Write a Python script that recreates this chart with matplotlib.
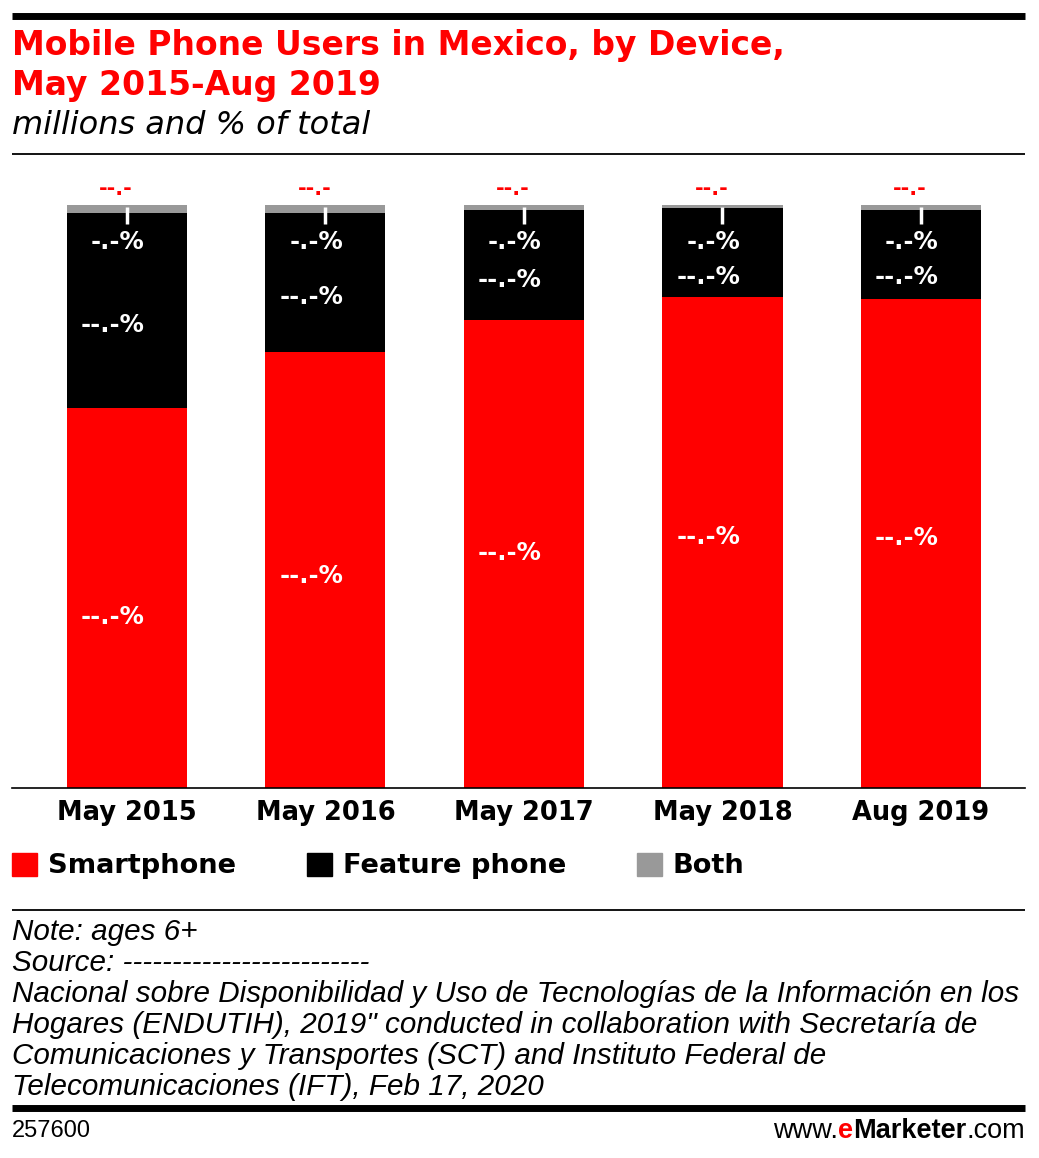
import matplotlib
matplotlib.use('Agg')
import matplotlib.pyplot as plt
from matplotlib.patches import Patch
import numpy as np

# values, % of total
periods = ['May 2015', 'May 2016', 'May 2017', 'May 2018', 'Aug 2019']
smartphone = [65.1, 74.8, 80.3, 84.2, 83.9]
feature = [33.5, 23.8, 18.8, 15.2, 15.3]
both = [1.4, 1.4, 0.9, 0.6, 0.8]
total_label = '--.-'
pct_small = '-.-%'
pct_big = '--.-%'

RED = '#ff0000'
GREY = '#999999'
W, H = 1039, 1158

fig = plt.figure(figsize=(W / 100, H / 100), dpi=100)


def fx(px):
    return px / W


def fy(py):
    return 1 - py / H


# plot area: baseline at y=788px, 100% at ~205px
ax = fig.add_axes([fx(12), fy(788), fx(1025) - fx(12), fy(170) - fy(788)])
x = np.arange(len(periods))
ax.set_xlim(-0.579, 4.524)
ax.set_ylim(0, 106.0)

wid = 0.605
ax.bar(x, smartphone, wid, color=RED, label='Smartphone')
ax.bar(x, feature, wid, bottom=smartphone, color='black', label='Feature phone')
ax.bar(x, both, wid, bottom=np.add(smartphone, feature), color=GREY, label='Both')

for i in range(len(periods)):
    top = smartphone[i] + feature[i] + both[i]
    ax.text(i - 0.055, top + 2.7, total_label, color=RED, ha='center', va='center',
            fontsize=15, fontweight='bold')
    ax.plot([i, i], [top - 0.3, top - 3.3], color='white', lw=2.5, solid_capstyle='butt')
    ax.text(i + 0.09, top - 6.3, pct_small, color='white', ha='right', va='center',
            fontsize=17.5, fontweight='bold')
    fc = smartphone[i] + feature[i] / 2
    ax.text(i + 0.09, min(fc - 2.5, 87.6), pct_big, color='white', ha='right', va='center',
            fontsize=17.5, fontweight='bold')
    # smartphone label sits a bit low in tall-feature bars, as in the original
    ax.text(i + 0.09, 0.72 * smartphone[i] - 17.5, pct_big, color='white', ha='right',
            va='center', fontsize=17.5, fontweight='bold')

for s in ['top', 'right', 'left']:
    ax.spines[s].set_visible(False)
ax.spines['bottom'].set_linewidth(1.2)
ax.set_yticks([])
ax.set_xticks(x)
ax.set_xticklabels(periods, fontsize=18.5, fontweight='bold')
ax.tick_params(axis='x', length=0, pad=9)

# legend
handles = [Patch(color=RED), Patch(color='black'), Patch(color=GREY)]
fig.legend(handles, ['Smartphone', 'Feature phone', 'Both'], loc='center left',
           bbox_to_anchor=(fx(12), fy(866)), ncol=3, frameon=False,
           prop={'size': 19.6, 'weight': 'bold'}, handlelength=0.92, handleheight=0.92,
           handletextpad=0.4, columnspacing=2.6, borderaxespad=0, borderpad=0)

# rules
def hline(py, lw):
    fig.add_artist(plt.Line2D([fx(12), fx(1025)], [fy(py), fy(py)], color='black', lw=lw,
                              solid_capstyle='butt'))


hline(16, 5)
hline(154, 1.3)
hline(910, 1.3)
hline(1107.5, 5)

fig.text(fx(12), fy(45), 'Mobile Phone Users in Mexico, by Device,', color=RED,
         fontsize=23.8, fontweight='heavy', va='center')
fig.text(fx(12), fy(85), 'May 2015-Aug 2019', color=RED, fontsize=23.8, fontweight='heavy',
         va='center')
fig.text(fx(12), fy(125), 'millions and % of total', fontsize=23, style='italic', va='center')

notes = ['Note: ages 6+',
         'Source: -------------------------',
         'Nacional sobre Disponibilidad y Uso de Tecnologías de la Información en los',
         'Hogares (ENDUTIH), 2019" conducted in collaboration with Secretaría de',
         'Comunicaciones y Transportes (SCT) and Instituto Federal de',
         'Telecomunicaciones (IFT), Feb 17, 2020']
for k, line in enumerate(notes):
    fig.text(fx(12), fy(932 + 31 * k), line, fontsize=21.3, style='italic', va='center',
             family='Liberation Sans')

fig.text(fx(12), fy(1131), '257600', fontsize=17, va='center', family='Liberation Sans')

# www.eMarketer.com, built right to left
r = fig.canvas.get_renderer()
xr = fx(1025)
for txt, kw in [('.com', {}), ('Marketer', {'fontweight': 'bold'}),
                ('e', {'fontweight': 'bold', 'color': RED}), ('www.', {})]:
    t = fig.text(xr, fy(1131), txt, fontsize=19.5, va='center', ha='right',
                 family='Liberation Sans', **kw)
    bb = t.get_window_extent(renderer=r)
    xr -= bb.width / W

fig.savefig('out.png', dpi=100)
